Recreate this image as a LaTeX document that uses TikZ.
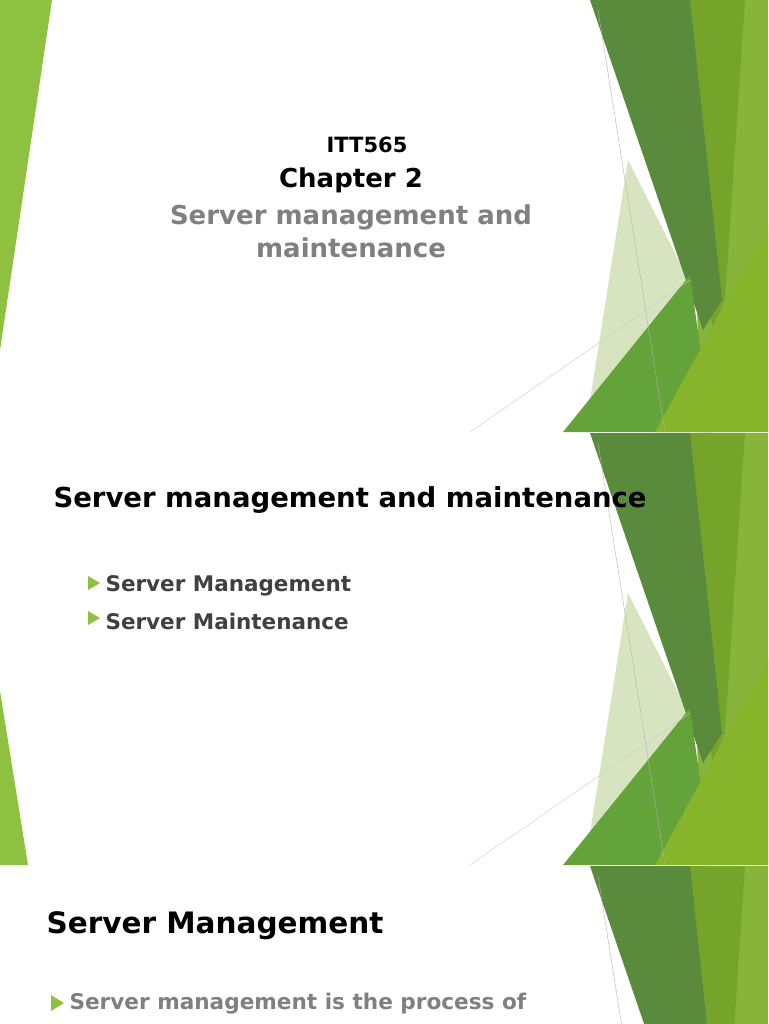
\documentclass[tikz,border=0pt]{standalone}
\usepackage{fontspec}
\setmainfont{DejaVu Sans}
\definecolor{dg}{HTML}{5A8A3C}
\definecolor{mg}{HTML}{74A52A}
\definecolor{lg}{HTML}{88B43C}
\definecolor{pg}{HTML}{C9DCAA}
\definecolor{bg}{HTML}{64A23A}
\definecolor{yg}{HTML}{86B42A}
\definecolor{sl}{HTML}{8DC13F}
\definecolor{gr}{HTML}{808080}
\definecolor{tx}{HTML}{404040}
\newcommand\mydeco{%
  \fill[lg] (690,0) -- (768,0) -- (768,432) -- (700,432) -- cycle;
  \fill[mg] (690,0) -- (745,0) -- (725,300) -- (712,330) -- cycle;
  \fill[pg,opacity=0.75] (628,160) -- (690,283) -- (590,400) -- cycle;
  \fill[dg] (590,0) -- (690,0) -- (722,300) -- (703,330) -- cycle;
  \fill[bg] (563,432) -- (690,275) -- (712,432) -- cycle;
  \fill[yg] (655,432) -- (768,225) -- (768,432) -- cycle;
  \draw[gray!60,line width=0.4] (598,10) -- (665,432);
  \draw[gray!40,line width=0.4] (470,432) -- (690,280);
}
\begin{document}
\begin{tikzpicture}[x=1pt,y=-1pt,
  ttl/.style={font=\bfseries\fontsize{27}{33}\selectfont,align=center},
  btx/.style={anchor=west,text=tx,font=\bfseries\fontsize{21.5}{24}\selectfont}]
\useasboundingbox (0,0) rectangle (768,1024);
\fill[white] (0,0) rectangle (768,1024);
\begin{scope}\clip (0,0) rectangle (768,432); \mydeco
  \fill[sl] (0,0) -- (52,0) -- (0,350) -- cycle;
\end{scope}
\begin{scope}[yshift=-433pt]\clip (0,0) rectangle (768,432); \mydeco
  \fill[sl] (0,258) -- (28,432) -- (0,432) -- cycle;
\end{scope}
\begin{scope}[yshift=-866pt]\clip (0,0) rectangle (768,158); \mydeco
\end{scope}
\node[ttl,font=\bfseries\fontsize{21}{26}\selectfont] (t1) at (367,145) {ITT565};
\node[ttl,font=\bfseries\fontsize{26}{30}\selectfont] (t2) at (351,180) {Chapter 2};
\node[ttl,text=gr,font=\bfseries\fontsize{26}{33}\selectfont] (t3) at (351,231) {Server management and\\maintenance};
\node[anchor=west,font=\bfseries\fontsize{27.5}{30}\selectfont] (h2) at (50,500) {Server management and maintenance};
\fill[sl] (88,576) -- (100,583) -- (88,590) -- cycle;
\node[btx] (b1) at (102,586) {Server Management};
\fill[sl] (88,611) -- (100,618) -- (88,625) -- cycle;
\node[btx] (b2) at (102,621) {Server Maintenance};
\node[anchor=west,font=\bfseries\fontsize{29.5}{32}\selectfont] (h3) at (43,926) {Server Management};
\fill[sl] (51,995) -- (64,1003) -- (51,1011) -- cycle;
\node[btx,text=gr,font=\bfseries\fontsize{21.6}{25}\selectfont] (b3) at (66,1004) {Server management is the process of};
\end{tikzpicture}
\end{document}
